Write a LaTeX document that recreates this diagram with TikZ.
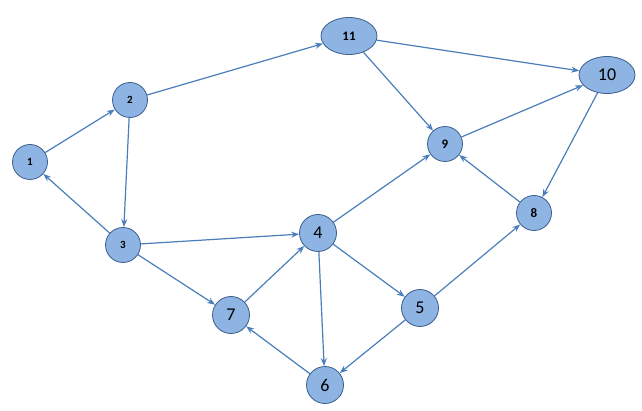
\documentclass[tikz,border=0pt]{standalone}
\usepackage{fontspec}
\setmainfont{Carlito}
\usetikzlibrary{arrows.meta,shapes.geometric}
\definecolor{nfill}{HTML}{8DB4E2}
\definecolor{nline}{HTML}{3B5E8C}
\definecolor{eline}{HTML}{4A7EBB}
\begin{document}
\begin{tikzpicture}[x=1pt,y=-1pt,
 nd/.style={circle,draw=nline,fill=nfill,line width=0.8pt,minimum size=35pt,inner sep=0pt,font=\bfseries\fontsize{11}{11}\selectfont},
 nb/.style={nd,font=\fontsize{18}{18}\selectfont,minimum size=37pt},
 ne/.style={ellipse,draw=nline,fill=nfill,line width=0.8pt,minimum width=56pt,minimum height=37pt,inner sep=0pt},
 ed/.style={draw=eline,line width=1.2pt,-{Stealth[length=8pt,width=6pt]}}]
\useasboundingbox (0,0) rectangle (642,411);
\node[nd] (n1) at (30,162) {1};
\node[nd] (n2) at (130,100) {2};
\node[nd] (n3) at (123,245) {3};
\node[ne,font=\bfseries\fontsize{13}{13}\selectfont] (n11) at (349,36) {11};
\node[ne,font=\fontsize{18}{18}\selectfont] (n10) at (607,75) {10};
\node[nd,font=\bfseries\fontsize{13}{13}\selectfont] (n9) at (445,144) {9};
\node[nd,font=\bfseries\fontsize{13}{13}\selectfont] (n8) at (534,213) {8};
\node[nb] (n4) at (318,233) {4};
\node[nb] (n5) at (420,308) {5};
\node[nb] (n7) at (231,315) {7};
\node[nb] (n6) at (325,385) {6};
\foreach \a/\b in {n1/n2,n2/n11,n2/n3,n3/n1,n3/n4,n3/n7,n11/n10,n11/n9,n9/n10,n10/n8,n8/n9,n4/n9,n4/n5,n4/n6,n7/n4,n6/n7,n5/n6,n5/n8}
  \draw[ed] (\a) -- (\b);
\end{tikzpicture}
\end{document}
